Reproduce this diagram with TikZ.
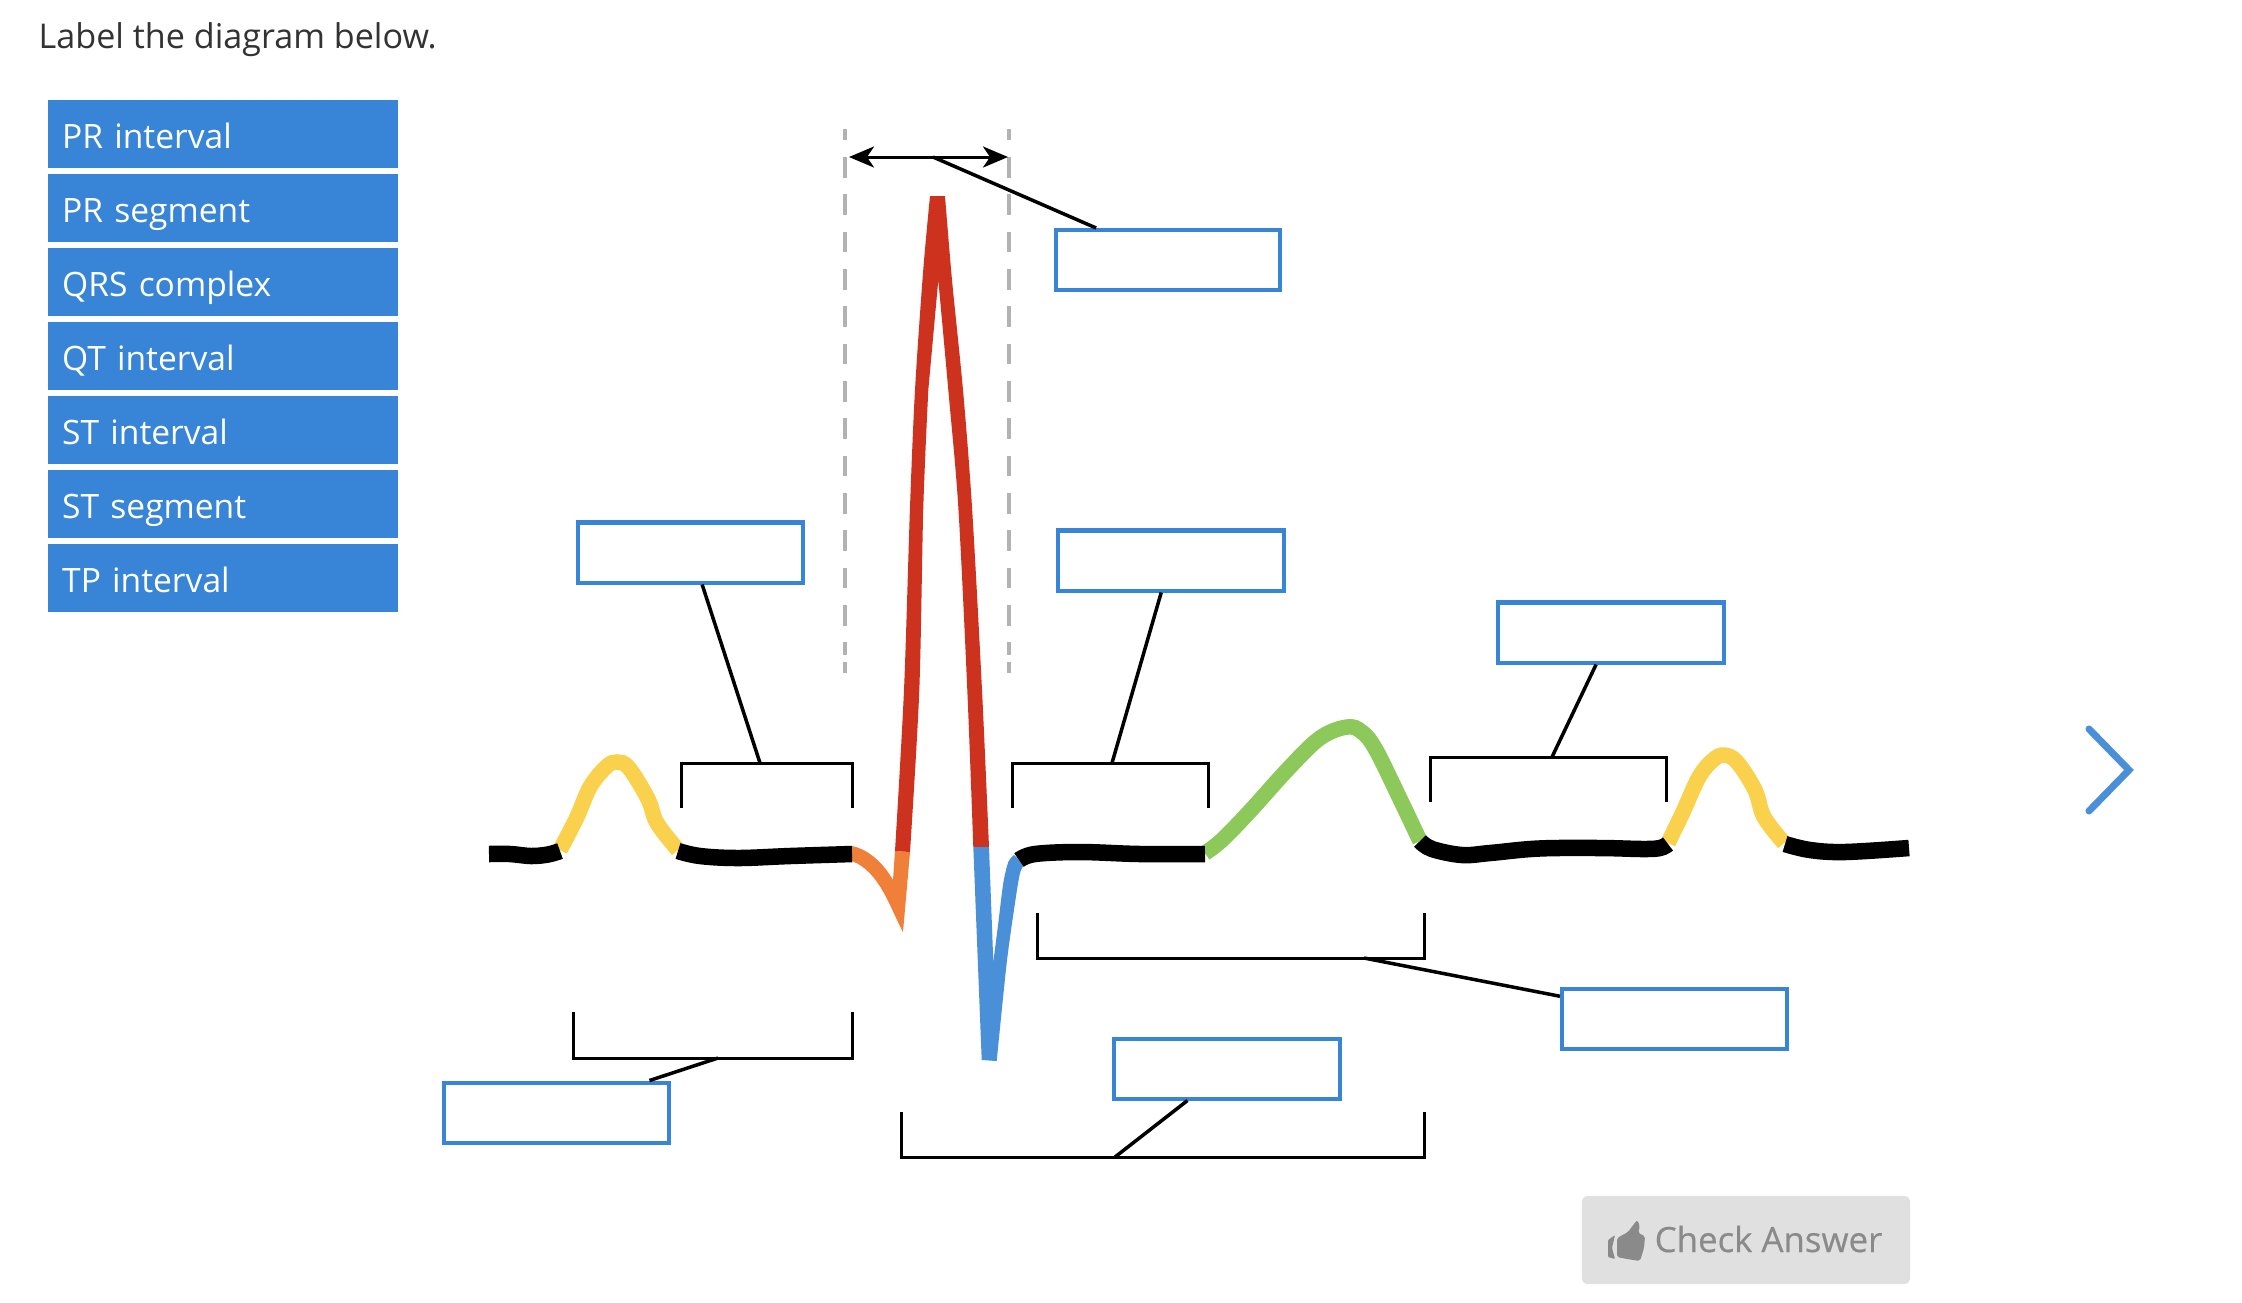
\documentclass[tikz,border=0pt]{standalone}
\usepackage{fontspec}
\setmainfont{Open Sans}
\newfontfamily\buttonfont[FakeBold=0.4]{Open Sans}
\usepackage{xcolor}
\usetikzlibrary{arrows.meta}
\definecolor{ecgtile}{RGB}{56,132,214}
\definecolor{ecgyellow}{RGB}{249,209,76}
\definecolor{ecgorange}{RGB}{240,127,57}
\definecolor{ecgred}{RGB}{205,50,30}
\definecolor{ecgblue}{RGB}{74,144,217}
\definecolor{ecggreen}{RGB}{140,200,90}
\definecolor{ecgbutton}{RGB}{224,224,224}
\definecolor{ecgicon}{RGB}{138,138,138}
\definecolor{ecgtext}{RGB}{51,51,51}
\definecolor{ecgdash}{RGB}{178,178,178}
\newcommand{\headsize}{\fontsize{9.7pt}{12pt}\selectfont}
\newcommand{\tilesize}{\fontsize{9.55pt}{12pt}\selectfont}
\tikzstyle{tile} = [fill=ecgtile, text=white, anchor=north west, inner sep=0pt, text width=3.22cm, inner xsep=0.14cm, minimum width=3.5cm, text height=0.48cm, text depth=0.2cm, font=\tilesize]
\tikzstyle{answer} = [draw=ecgtile, line width=0.04cm, minimum width=2.25cm, minimum height=0.6cm, inner sep=0pt]
\tikzstyle{bracket} = [line width=0.03cm]
\tikzstyle{leader} = [line width=0.035cm]
\tikzstyle{trace} = [line width=0.165cm]
\tikzstyle{wave} = [line width=0.155cm]
\tikzstyle{guide} = [ecgdash, line width=0.035cm, dash pattern=on 0.207cm off 0.166cm, dash phase=0.093cm]

\begin{document}
\begin{tikzpicture}[x=0.01cm, y=-0.01cm]
\path[use as bounding box, fill=white] (0,0) rectangle (2242,1302);

% Heading
\node[anchor=base west, inner sep=0pt, text=ecgtext, font=\headsize] (heading) at (38,48) {Label the diagram below.};

% Tiles
\node[tile] (tilea) at (47.5,99.5) {PR interval};
\node[tile] (tileb) at (47.5,173.5) {PR segment};
\node[tile] (tilec) at (47.5,247.5) {QRS complex};
\node[tile] (tiled) at (47.5,321.5) {QT interval};
\node[tile] (tilee) at (47.5,395.5) {ST interval};
\node[tile] (tilef) at (47.5,469.5) {ST segment};
\node[tile] (tileg) at (47.5,543.5) {TP interval};

% Answer boxes
\node[answer, minimum width=2.24cm] (boxqrs) at (1168,260) {};
\node[answer] (boxprseg) at (690.5,552.5) {};
\node[answer] (boxstseg) at (1171,560.5) {};
\node[answer] (boxtp) at (1611,632.5) {};
\node[answer] (boxstint) at (1674.5,1018.5) {};
\node[answer] (boxqt) at (1227,1068.5) {};
\node[answer] (boxprint) at (556.5,1112.5) {};

% Guides and width arrow
\draw[guide] (845,129) -- (845,655) (845,662) -- (845,673);
\draw[guide] (1009,129) -- (1009,655) (1009,662) -- (1009,673);
\coordinate (qrsleft) at (849,157);
\coordinate (qrsright) at (1008,157);
\coordinate (qrsmid) at (933,157);
\draw[bracket, {Stealth[length=0.25cm, width=0.21cm, inset=0.07cm]}-{Stealth[length=0.25cm, width=0.21cm, inset=0.07cm]}] (qrsleft) -- (qrsright);
\draw[leader] (qrsmid) -- (boxqrs.156.7);

% Trace, coloured waves
\draw[wave, ecgyellow] plot[smooth, tension=0.6] coordinates {(560,850) (577,817) (590,787) (606,767) (617,762) (629,768) (648,799) (657,823) (678,850)};
\draw[wave, ecggreen] plot[smooth, tension=0.6] coordinates {(1205,853) (1222,840) (1251,810) (1288,769) (1320,738) (1347,727) (1362,732) (1376,750) (1401,801) (1420,841)};
\draw[wave, ecgyellow] plot[smooth, tension=0.6] coordinates {(1668,843) (1683,812) (1699,777) (1713,760) (1724,755) (1737,762) (1755,790) (1764,817) (1784,843)};
\fill[ecgorange] (852,846) .. controls (871,850) and (885,866) .. (893,880) -- (895,851) -- (910,852) -- (903,932) .. controls (890,908) and (880,872) .. (852,861) -- cycle;
\fill[ecgred] plot[smooth, tension=0.5] coordinates {(895,851) (904,690) (910,507) (915,390) (923,273) (930,196)} -- plot[smooth, tension=0.5] coordinates {(945,196) (952,280) (963,390) (972,507) (982,690) (989,847)} -- plot[smooth, tension=0.5] coordinates {(973.3,847) (967.3,690) (958.3,507) (948.3,390) (938.3,280)} -- plot[smooth, tension=0.5] coordinates {(928.3,390) (923.3,507) (919.3,690) (910,852)} -- cycle;
\fill[ecgblue] (973.3,847) -- (989,847) -- (993.3,962) -- plot[smooth, tension=0.5] coordinates {(993.3,962) (998.3,923) (1003.3,883) (1008.3,862) (1014,855)} -- (1024.3,865) -- plot[smooth, tension=0.5] coordinates {(1024.3,865) (1020,873) (1015,903) (1006.7,963) (996.7,1061)} -- (981.7,1060) -- cycle;

% Trace, black stretches
\draw[trace] plot[smooth, tension=0.6] coordinates {(489,854) (510,854) (531,856) (548,854.5) (560,851)};
\draw[trace] plot[smooth, tension=0.6] coordinates {(678,851) (700,856) (738,858) (790,856) (852,854)};
\draw[trace] plot[smooth, tension=0.6] coordinates {(1019,860) (1035,854) (1080,852) (1140,854) (1205,854)};
\draw[trace] plot[smooth, tension=0.6] coordinates {(1420,841) (1432,849) (1462,855) (1490,853) (1539,848.5) (1600,848) (1643,849) (1660,848) (1668,844)};
\draw[trace] plot[smooth, tension=0.6] coordinates {(1785,844) (1810,850) (1845,852) (1909,848)};

% Brackets
\coordinate (prsegtop) at (760,763);
\coordinate (printlow) at (718,1058);
\coordinate (stsegtop) at (1112,763);
\coordinate (tptop) at (1552,757);
\coordinate (stintlow) at (1364,958);
\coordinate (qtlow) at (1115,1157);
\draw[bracket] (681,808) |- (852,763) -- (852,808);
\draw[bracket] (573,1012) |- (852,1058) -- (852,1012);
\draw[bracket] (1012,808) |- (1208,763) -- (1208,808);
\draw[bracket] (1430,802) |- (1666,757) -- (1666,802);
\draw[bracket] (1037,913) |- (1424,958) -- (1424,913);
\draw[bracket] (901,1112) |- (1424,1157) -- (1424,1112);
\draw[leader] (boxprseg.290) -- (prsegtop);
\draw[leader] (boxprint.19) -- (printlow);
\draw[leader] (boxstseg.253) -- (stsegtop);
\draw[leader] (boxtp.245) -- (tptop);
\draw[leader] (boxstint.169) -- (stintlow);
\draw[leader] (boxqt.219) -- (qtlow);

% Next chevron
\draw[ecgblue, line width=0.07cm, line cap=round] (2089,729) -- (2129,770) -- (2089,811);

% Check button
\node[fill=ecgbutton, rounded corners=0.06cm, minimum width=3.28cm, minimum height=0.88cm, inner sep=0pt] (checkbox) at (1746,1240) {};
\node[anchor=base west, inner sep=0pt, text=ecgicon, font=\buttonfont\fontsize{9.9pt}{12pt}\selectfont] (checktext) at (1654,1252) {Check Answer};
\fill[ecgicon, rounded corners=0.02cm] (1637,1220) -- (1640,1226) -- (1638,1233) -- (1645,1236) -- (1644,1248) -- (1640,1261) -- (1627,1259) -- (1617,1257) -- (1617,1238) -- (1628,1232) -- cycle;
\fill[ecgicon, rounded corners=0.01cm] (1615,1235) -- (1608,1240) -- (1608,1257) -- (1615,1259) -- (1612,1248) -- cycle;
\end{tikzpicture}
\end{document}
